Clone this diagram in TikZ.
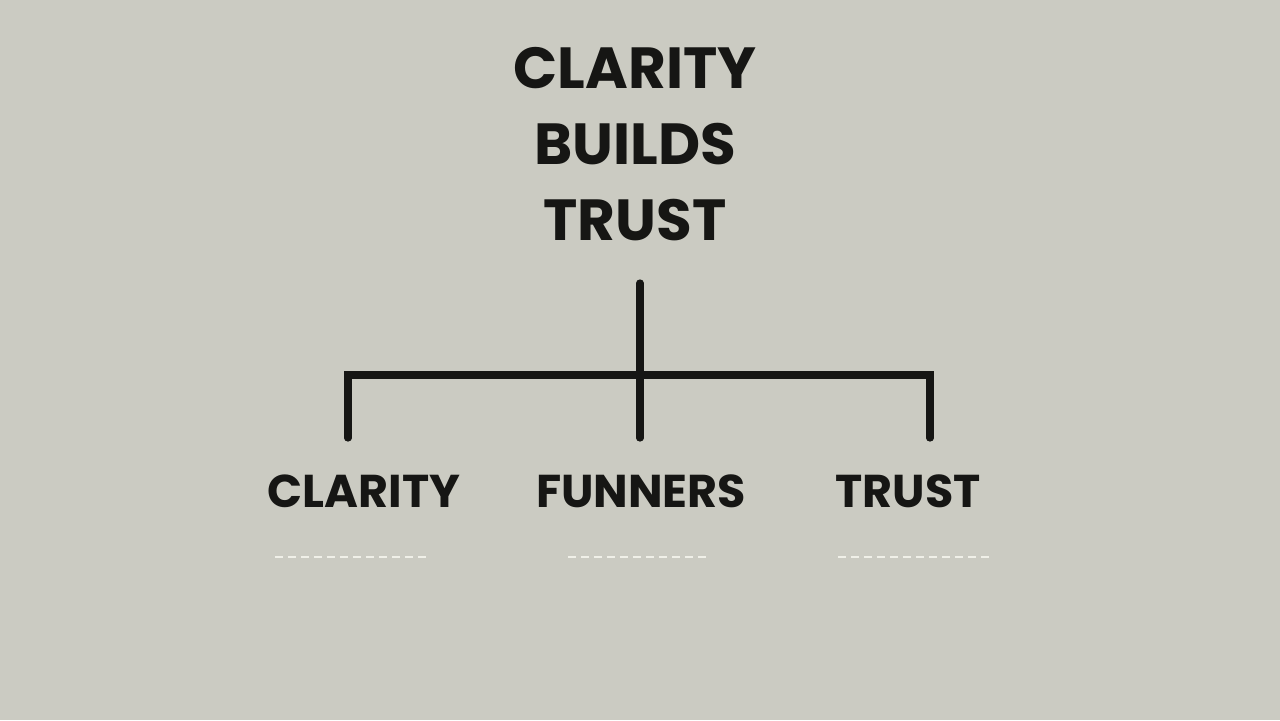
\documentclass[tikz,border=0pt]{standalone}
\usepackage{fontspec}
\setmainfont{Poppins}
\definecolor{bgc}{RGB}{203,203,194}
\definecolor{ink}{RGB}{22,22,20}
\definecolor{dashc}{RGB}{240,240,232}
\begin{document}
\begin{tikzpicture}[x=0.5pt,y=-0.5pt,
  title/.style={font=\fontsize{29}{38}\selectfont\bfseries, text=ink, align=center, inner sep=0pt},
  leaf/.style={font=\fontsize{23}{28}\selectfont\bfseries, text=ink, inner sep=0pt},
  bar/.style={draw=ink, line width=3.6pt, line cap=round, line join=miter},
  faint/.style={draw=dashc, line width=0.9pt, dash pattern=on 4pt off 2.5pt}]
\fill[bgc] (0,0) rectangle (1280,720);
\useasboundingbox (0,0) rectangle (1280,720);
\node[title] (t) at (635,144) {CLARITY\\BUILDS\\TRUST};
\coordinate (top) at (640,283);
\coordinate (j) at (640,375);
\coordinate (lj) at (348,375);
\coordinate (rj) at (930,375);
\coordinate (lb) at (348,438);
\coordinate (mb) at (640,438);
\coordinate (rb) at (930,438);
\node[leaf] (a) at (364,491) {CLARITY};
\node[leaf] (b) at (641,491) {FUNNERS};
\node[leaf] (c) at (908,491) {TRUST};
\draw[bar] (top) -- (mb);
\draw[bar] (lb) -- (lj) -- (rj) -- (rb);
\coordinate (a1) at (275,557); \coordinate (a2) at (430,557);
\coordinate (b1) at (568,557); \coordinate (b2) at (708,557);
\coordinate (c1) at (838,557); \coordinate (c2) at (990,557);
\draw[faint] (a1) -- (a2);
\draw[faint] (b1) -- (b2);
\draw[faint] (c1) -- (c2);
\end{tikzpicture}
\end{document}
